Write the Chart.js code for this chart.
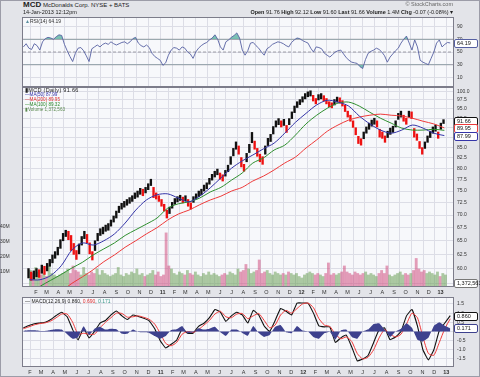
<!DOCTYPE html>
<html>
<head>
<meta charset="utf-8">
<script src="https://cdn.jsdelivr.net/npm/chart.js@4.4.1/dist/chart.umd.min.js"></script>
<style>
  html, body { margin: 0; padding: 0; }
  body { width: 480px; height: 377px; background: #e3e4e9; position: relative; overflow: hidden;
         font-family: "Liberation Sans", Arial, sans-serif; }
  #frame { position: absolute; left: 0; top: 0; width: 478px; height: 375px; border: 1px solid #9c9ca8; }
  canvas { position: absolute; left: 0; }
  .t { position: absolute; white-space: nowrap; color: #222; line-height: 1; }
</style>
</head>
<body>
<div id="frame"></div>
<canvas id="rsiChart" width="480" height="70" style="top:17px"></canvas>
<canvas id="priceChart" width="480" height="210" style="top:87px"></canvas>
<canvas id="macdChart" width="480" height="80" style="top:297px"></canvas>

<div class="t" style="left:23px;top:1px;font-size:6px"><b style="font-size:8px">MCD</b> McDonalds Corp. NYSE + BATS</div>
<div class="t" style="left:23px;top:10px;font-size:5.5px">14-Jan-2013 12:12pm</div>
<div class="t" style="right:27px;top:2px;font-size:5.5px;color:#666">&copy; StockCharts.com</div>
<div class="t" style="right:27px;top:10px;font-size:5.5px"><b>Open</b> 91.76 <b>High</b> 92.12 <b>Low</b> 91.60 <b>Last</b> 91.66 <b>Volume</b> 1.4M <b>Chg</b> -0.07 (-0.08%) &#9662;</div>

<div class="t" style="left:25px;top:19px;font-size:5px;color:#333"><span style="color:#5b8fa0">&#9650;</span>RSI(14) 64.19</div>

<div class="t" style="left:25px;top:88px;font-size:5.5px;letter-spacing:0.3px">&#9646;MCD (Daily) 91.66</div>
<div class="t" style="left:25px;top:93px;font-size:4.6px;color:#3333aa">&#8212;MA(50) 87.99</div>
<div class="t" style="left:25px;top:98px;font-size:4.6px;color:#e03030">&#8212;MA(200) 89.95</div>
<div class="t" style="left:25px;top:103px;font-size:4.6px;color:#2e8a2e">&#8212;MA(100) 89.32</div>
<div class="t" style="left:25px;top:108px;font-size:4.6px;color:#5c8a50">&#9646;Volume 1,372,563</div>

<div class="t" style="left:25px;top:299px;font-size:5px">&#8212; MACD(12,26,9) 0.860, <span style="color:#e03030">0.690</span>, <span style="color:#3a9a8a">0.171</span></div>

<script>
// weekly samples, first week ending 15-Jan-2010
const firstWeek = [2010, 0, 15];

const priceLow = [
  58.4, 58.0, 58.2, 58.6, 58.5, 59.2, 59.0, 59.6, 60.4, 61.0,
  61.8, 62.4, 63.6, 65.0, 65.8, 65.2, 63.2, 62.5, 61.6, 62.6,
  64.2, 65.4, 64.6, 62.6, 61.5, 63.2, 65.0, 66.0, 66.3, 66.8,
  67.0, 67.8, 68.6, 69.4, 70.5, 71.2, 71.6, 72.0, 72.4, 72.8,
  73.4, 73.7, 74.3, 74.0, 74.6, 75.3, 76.2, 73.6, 73.3, 72.8,
  71.8, 70.8, 69.4, 70.3, 71.4, 72.2, 72.7, 73.0, 72.5, 72.9,
  71.8, 71.2, 72.6, 73.3, 73.8, 74.2, 75.0, 75.5, 76.5, 77.4,
  78.1, 78.6, 77.6, 77.2, 78.3, 79.3, 81.0, 83.0, 84.6, 83.4,
  80.4, 79.4, 81.6, 83.8, 86.2, 84.6, 82.9, 81.6, 81.0, 83.4,
  85.5, 86.5, 88.4, 90.2, 90.8, 90.2, 90.6, 88.8, 90.8, 92.4,
  94.0, 95.4, 96.2, 96.9, 97.8, 98.4, 98.6, 97.2, 96.4, 97.5,
  97.8, 97.2, 96.4, 95.6, 95.3, 96.1, 96.9, 96.6, 95.8, 94.3,
  92.8, 91.7, 90.1, 88.2, 86.0, 85.6, 87.2, 88.6, 89.6, 90.4,
  90.9, 90.2, 87.6, 87.3, 86.3, 87.5, 88.3, 88.8, 90.2, 92.2,
  92.8, 91.7, 90.9, 92.8, 92.4, 87.6, 86.8, 84.8, 83.4, 84.8,
  86.3, 87.5, 88.6, 89.1, 87.3, 89.6, 91.1
];
const priceHigh = [
  60.0, 59.4, 59.6, 60.0, 59.8, 60.6, 60.4, 60.9, 61.6, 62.4,
  63.0, 63.8, 65.2, 66.4, 67.0, 66.8, 66.0, 64.5, 63.2, 64.4,
  65.8, 66.8, 66.2, 64.6, 63.0, 65.0, 66.4, 67.3, 67.6, 68.0,
  68.3, 69.0, 69.8, 70.8, 71.8, 72.4, 72.8, 73.2, 73.6, 74.0,
  74.6, 75.0, 75.6, 75.4, 75.8, 76.6, 77.6, 75.8, 74.6, 74.0,
  73.2, 72.2, 71.0, 71.6, 72.6, 73.4, 73.8, 74.1, 73.7, 74.0,
  73.2, 72.5, 73.8, 74.4, 75.0, 75.4, 76.3, 76.8, 77.8, 78.7,
  79.4, 79.9, 79.0, 78.6, 79.6, 80.8, 82.8, 84.8, 86.4, 85.4,
  82.6, 81.0, 83.6, 85.8, 88.8, 86.6, 84.8, 83.4, 82.8, 85.4,
  87.3, 88.3, 90.3, 91.8, 92.4, 91.8, 92.2, 90.6, 92.4, 94.2,
  95.8, 97.0, 97.6, 98.4, 99.3, 99.8, 100.1, 98.8, 97.9, 99.0,
  99.3, 98.7, 97.9, 97.0, 96.7, 97.6, 98.3, 98.1, 97.3, 96.0,
  94.4, 93.3, 91.8, 90.0, 87.8, 87.2, 88.9, 90.2, 91.2, 92.0,
  92.5, 91.8, 89.6, 88.9, 87.9, 89.1, 89.9, 90.4, 91.8, 93.8,
  94.4, 93.3, 92.5, 94.4, 94.2, 89.8, 88.4, 86.5, 85.0, 86.4,
  87.9, 89.1, 90.2, 90.7, 88.9, 91.2, 92.12
];
// volume, millions of shares
const volumeM = [
  11, 9, 13, 10, 8, 9, 7, 14, 9, 8,
  7, 8, 9, 10, 12, 9, 14, 11, 10, 8,
  13, 9, 8, 10, 9, 12, 8, 11, 9, 8,
  7, 8, 9, 13, 8, 7, 9, 8, 10, 9,
  12, 8, 9, 7, 8, 9, 11, 8, 10, 7,
  8, 36, 14, 12, 9, 8, 10, 9, 8, 11,
  9, 8, 10, 8, 7, 9, 8, 10, 8, 9,
  8, 7, 8, 9, 8, 10, 9, 8, 12, 10,
  11, 15, 12, 9, 10, 11, 18, 9, 10, 11,
  9, 8, 10, 9, 8, 9, 8, 10, 9, 8,
  9, 7, 6, 8, 9, 10, 9, 8, 9, 8,
  7, 9, 16, 8, 9, 8, 9, 10, 14, 10,
  9, 8, 10, 9, 8, 9, 10, 8, 9, 8,
  7, 9, 11, 9, 14, 8, 7, 8, 9, 10,
  8, 9, 8, 9, 11, 19, 12, 10, 11, 9,
  10, 9, 8, 10, 7, 9, 8
];
const rsi14 = [
  58, 63, 56, 54, 63, 60, 53, 66, 71, 73,
  72, 70, 74, 77, 76, 62, 52, 43, 35, 48,
  56, 57, 52, 44, 35, 55, 58, 61, 58, 62,
  64, 62, 66, 63, 61, 63, 65, 66, 63, 66,
  71, 73, 64, 60, 58, 61, 57, 48, 43, 40,
  37, 29, 33, 45, 53, 57, 56, 53, 58, 56,
  50, 47, 40, 50, 56, 60, 63, 65, 69, 72,
  77, 70, 58, 53, 66, 69, 73, 76, 80, 72,
  53, 45, 52, 64, 65, 60, 56, 50, 45, 55,
  58, 62, 64, 66, 65, 63, 60, 58, 65, 69,
  72, 71, 68, 66, 64, 56, 50, 58, 57, 55,
  48, 45, 42, 46, 50, 52, 53, 47, 41, 37,
  34, 33, 32, 27, 24, 38, 48, 51, 53, 56,
  54, 50, 44, 34, 42, 47, 52, 56, 64, 70,
  75, 64, 53, 69, 58, 37, 34, 32, 30, 40,
  50, 64, 69, 58, 62, 65, 64.19
];
// moving averages, one reading every 4 weeks
const ma50 = [
  58.1, 58.1, 58.8, 60.5, 63.3, 64.6, 64.2, 65.0, 66.3, 68.4,
  71.0, 73.1, 74.2, 74.4, 73.5, 72.7, 73.9, 75.7, 77.9, 80.1,
  81.8, 83.2, 84.7, 86.1, 88.6, 91.4, 93.8, 96.1, 97.4, 96.9,
  95.8, 93.1, 91.0, 89.4, 88.6, 89.4, 90.7, 89.9, 88.6, 87.99
];
const ma100 = [
  55.8, 57.0, 58.0, 59.0, 60.1, 61.1, 62.4, 63.5, 64.6, 66.0,
  67.1, 68.2, 69.4, 71.4, 72.3, 72.7, 73.5, 74.8, 75.8, 77.4,
  79.0, 81.3, 82.5, 84.4, 85.6, 88.1, 91.0, 93.3, 95.2, 96.6,
  96.9, 95.8, 94.1, 92.5, 91.2, 89.9, 89.4, 89.4, 89.6, 89.32
];
const ma200 = [
  52.8, 53.9, 55.0, 56.2, 57.5, 58.6, 59.8, 61.2, 62.4, 63.8,
  65.0, 66.3, 67.5, 69.0, 70.2, 71.0, 72.1, 73.1, 73.9, 75.0,
  75.8, 77.2, 78.3, 79.7, 81.3, 82.7, 84.9, 86.9, 89.1, 90.7,
  92.0, 92.8, 93.3, 93.6, 93.3, 93.1, 92.5, 91.7, 91.0, 89.95
];
// MACD(12,26,9), one reading every 2 weeks
const macdLine = [
  0.19, 0.32, 0.42, 0.46, 0.5, 0.65, 0.87, 1.05, 0.8, 0.1,
  -0.46, 0.18, -0.35, 0.0, 0.46, 0.6, 0.9, 1.12, 0.85, 0.65,
  0.9, 0.82, 0.72, 0.58, 0.15, -0.5, -0.9, -0.7, -0.48, 0.15,
  -0.1, -0.1, 0.28, 0.45, 0.75, 1.2, 1.05, 0.55, 0.85, 1.05,
  0.9, 0.46, 1.15, 0.9, 0.3, 0.0, 0.6, 1.25, 1.1, 0.9,
  1.55, 1.55, 1.55, 1.0, 0.3, 0.25, 0.25, -0.6, -0.35, -0.2,
  -0.85, -1.6, -1.5, -1.3, -0.6, 0.1, 0.2, -0.45, -0.3, 0.0,
  0.85, 1.2, 0.3, -1.0, -1.55, -1.0, 0.05, 0.46, 0.86
];
const macdSignal = [
  0.15, 0.25, 0.36, 0.43, 0.47, 0.57, 0.75, 0.95, 0.95, 0.5,
  -0.15, -0.1, -0.15, -0.15, 0.2, 0.5, 0.75, 1.0, 0.98, 0.78,
  0.8, 0.85, 0.77, 0.66, 0.4, -0.1, -0.65, -0.78, -0.6, -0.15,
  0.0, -0.05, 0.1, 0.35, 0.6, 0.95, 1.1, 0.8, 0.75, 0.95,
  0.98, 0.7, 0.85, 0.98, 0.6, 0.2, 0.35, 0.9, 1.15, 1.0,
  1.25, 1.5, 1.55, 1.3, 0.7, 0.35, 0.27, -0.15, -0.4, -0.3,
  -0.55, -1.2, -1.5, -1.4, -1.0, -0.35, 0.1, -0.15, -0.3, -0.15,
  0.4, 1.0, 0.75, -0.3, -1.2, -1.3, -0.6, 0.15, 0.69
];
const macdHist = [
  0.04, 0.07, 0.06, 0.03, 0.03, 0.08, 0.12, 0.1, -0.15, -0.4,
  -0.31, 0.28, -0.2, 0.15, 0.26, 0.1, 0.15, 0.12, -0.13, -0.13,
  0.1, -0.03, -0.05, -0.08, -0.25, -0.4, -0.25, 0.08, 0.12, 0.3,
  -0.1, -0.05, 0.18, 0.1, 0.15, 0.25, -0.05, -0.25, 0.1, 0.1,
  -0.08, -0.24, 0.3, -0.08, -0.3, -0.2, 0.25, 0.35, -0.05, -0.1,
  0.3, 0.05, 0.0, -0.3, -0.4, -0.1, -0.02, -0.45, 0.05, 0.1,
  -0.3, -0.4, 0.0, 0.1, 0.4, 0.45, 0.1, -0.3, 0.0, 0.15,
  0.45, 0.2, -0.45, -0.55, -0.35, 0.3, 0.5, 0.31, 0.17
];

const priceTicks = [57.5, 60, 62.5, 65, 67.5, 70, 72.5, 75, 77.5, 80, 82.5, 85, 87.5, 90, 92.5, 95, 97.5, 100];
const volTicks = [10, 20, 30, 40];
const rsiTicks = [10, 30, 50, 70, 90];
const rsiLevels = [70, 50, 30];
const macdTicks = [-1.5, -1, -0.5, 0, 0.5, 1, 1.5];
const monthLetters = ['J', 'F', 'M', 'A', 'M', 'J', 'J', 'A', 'S', 'O', 'N', 'D'];

// ---- x positions (days since 1-Jan-2010) ----
const DAY = 86400000;
const origin = Date.UTC(2010, 0, 1);
const dayOf = (y, m, d) => (Date.UTC(y, m, d) - origin) / DAY;
const week0 = dayOf(firstWeek[0], firstWeek[1], firstWeek[2]);
const weekDays = priceLow.map((_, i) => week0 + 7 * i);
const maDays = ma50.map((_, i) => weekDays[i * 4]);
const macdDays = macdLine.map((_, i) => weekDays[i * 2]);
const xMin = 13, xMax = 1113;

const monthTicks = [];
for (let y = 2010; y <= 2013; y++) {
  for (let m = 0; m < 12; m++) {
    const d = dayOf(y, m, 1);
    if (d > xMin && d < xMax) monthTicks.push(d);
  }
}
const dateOf = v => new Date(origin + v * DAY);
const isJan = v => dateOf(v).getUTCMonth() === 0;

const font = '"Liberation Sans", Arial, sans-serif';
const gridColor = '#dcdde6';
const plotBg = '#f7f8fb';

const pts = (xs, ys) => ys.map((v, i) => ({ x: xs[i], y: v }));
const upWeek = i => i === 0 || (priceLow[i] + priceHigh[i]) > (priceLow[i - 1] + priceHigh[i - 1]);

function xScale(labels) {
  return {
    type: 'linear', min: xMin, max: xMax,
    afterBuildTicks: s => { s.ticks = monthTicks.map(v => ({ value: v })); },
    grid: { color: gridColor, drawTicks: false },
    border: { display: false },
    ticks: {
      display: labels, autoSkip: false, maxRotation: 0, padding: 2, color: '#333',
      font: c => ({ family: font, size: 5.5, weight: c.tick && isJan(c.tick.value) ? 'bold' : 'normal' }),
      callback: v => {
        const d = dateOf(v);
        return d.getUTCMonth() === 0 ? String(d.getUTCFullYear()).slice(2) : monthLetters[d.getUTCMonth()];
      }
    },
    afterFit: s => { s.height = labels ? 10 : 0; s.paddingLeft = 0; s.paddingRight = 0; }
  };
}

function yRight(ticks, fmt, extra) {
  return Object.assign({
    position: 'right',
    afterBuildTicks: s => { s.ticks = ticks.map(v => ({ value: v })); },
    grid: { color: gridColor, drawTicks: false },
    border: { display: false },
    ticks: { color: '#333', font: { family: font, size: 5 }, padding: 4, callback: fmt },
    afterFit: s => { s.width = 27; s.paddingTop = 0; s.paddingBottom = 0; }
  }, extra);
}

// plot background, panel border and last-value boxes
function panel(boxes) {
  return {
    id: 'panel',
    beforeDraw(chart) {
      const { ctx, chartArea: a } = chart;
      ctx.save();
      ctx.fillStyle = plotBg;
      ctx.fillRect(a.left, a.top, a.width, a.height);
      ctx.restore();
    },
    afterDraw(chart) {
      const { ctx, chartArea: a } = chart;
      ctx.save();
      ctx.strokeStyle = '#7c7c8a';
      ctx.lineWidth = 1;
      ctx.strokeRect(a.left - 0.5, a.top + 0.5, a.width + 1, a.height - 1);
      boxes.forEach(b => {
        let y = chart.scales[b.axis].getPixelForValue(b.value);
        y = Math.min(Math.max(y, a.top + 4), a.bottom - 4);
        ctx.fillStyle = '#fff';
        ctx.strokeStyle = b.color;
        ctx.beginPath();
        ctx.roundRect(a.right + 1.5, Math.round(y) - 3.5, 23, 8, 1.5);
        ctx.fill();
        ctx.stroke();
        ctx.fillStyle = '#111';
        ctx.font = '5.5px ' + font;
        ctx.textBaseline = 'middle';
        ctx.fillText(b.text, a.right + 4, Math.round(y) + 0.5);
      });
      ctx.restore();
    }
  };
}

const common = {
  responsive: false, animation: false, devicePixelRatio: 1,
  plugins: { legend: { display: false }, tooltip: { enabled: false } },
  elements: { point: { radius: 0 } }
};

// RSI panel
new Chart(document.getElementById('rsiChart'), {
  type: 'line',
  data: {
    datasets: [
      { data: pts(weekDays, rsi14), borderColor: '#5660a2', borderWidth: 0.9, tension: 0,
        fill: { target: { value: 70 }, above: 'rgba(70,170,150,0.7)', below: 'rgba(0,0,0,0)' } },
      { data: pts(weekDays, rsi14), borderWidth: 0,
        fill: { target: { value: 30 }, above: 'rgba(0,0,0,0)', below: 'rgba(70,170,150,0.7)' } },
      ...rsiLevels.map(v => ({
        data: [{ x: xMin, y: v }, { x: xMax, y: v }],
        borderColor: '#8a8a94', borderWidth: 0.8, borderDash: v === 50 ? [3, 2] : []
      }))
    ]
  },
  options: Object.assign({}, common, {
    layout: { padding: { left: 23 } },
    scales: {
      x: xScale(false),
      y: yRight(rsiTicks, v => v, { min: -5, max: 105 })
    }
  }),
  plugins: [panel([{ axis: 'y', value: 64.19, text: '64.19', color: '#5660a2' }])]
});

// price + volume panel
new Chart(document.getElementById('priceChart'), {
  data: {
    datasets: [
      { type: 'line', data: pts(maDays, ma50), borderColor: '#3535a8', borderWidth: 1, tension: 0.3, order: 1 },
      { type: 'line', data: pts(maDays, ma200), borderColor: '#ee3a3a', borderWidth: 1, tension: 0.3, order: 1 },
      { type: 'line', data: pts(maDays, ma100), borderColor: '#2f8f2f', borderWidth: 1, tension: 0.3, order: 1 },
      { type: 'bar', data: weekDays.map((d, i) => ({ x: d, y: [priceLow[i], priceHigh[i]] })),
        backgroundColor: c => upWeek(c.dataIndex) ? '#111' : '#ee1111',
        barThickness: 1.7, order: 2 },
      { type: 'bar', yAxisID: 'vol', data: pts(weekDays, volumeM),
        backgroundColor: c => upWeek(c.dataIndex) ? 'rgba(110,160,90,0.55)' : 'rgba(210,80,130,0.55)',
        barThickness: 2.2, order: 3 }
    ]
  },
  options: Object.assign({}, common, {
    scales: {
      x: xScale(true),
      y: yRight(priceTicks, v => v.toFixed(1), { type: 'logarithmic', min: 56.9, max: 101.2 }),
      vol: {
        position: 'left', min: 0, max: 133,
        afterBuildTicks: s => { s.ticks = volTicks.map(v => ({ value: v })); },
        grid: { display: false, drawTicks: false },
        border: { display: false },
        ticks: { color: '#333', font: { family: font, size: 5 }, padding: 3, crossAlign: 'far',
                 callback: v => v + 'M' },
        afterFit: s => { s.width = 23; s.paddingTop = 0; s.paddingBottom = 0; }
      }
    }
  }),
  plugins: [panel([
    { axis: 'y', value: 91.66, text: '91.66', color: '#111' },
    { axis: 'y', value: 89.95, text: '89.95', color: '#ee3a3a' },
    { axis: 'y', value: 87.99, text: '87.99', color: '#3535a8' },
    { axis: 'vol', value: 1.37, text: '1,372,563', color: '#777' }
  ])]
});

// MACD panel
new Chart(document.getElementById('macdChart'), {
  type: 'line',
  data: {
    datasets: [
      { data: pts(macdDays, macdHist), borderWidth: 0, fill: 'origin', backgroundColor: '#3d418e', tension: 0.1 },
      { data: pts(macdDays, macdSignal), borderColor: '#f03a3a', borderWidth: 1, tension: 0.2 },
      { data: pts(macdDays, macdLine), borderColor: '#111', borderWidth: 1.1, tension: 0.1 }
    ]
  },
  options: Object.assign({}, common, {
    layout: { padding: { left: 23 } },
    scales: {
      x: xScale(true),
      y: yRight(macdTicks, v => v.toFixed(1), { min: -1.94, max: 1.88 })
    }
  }),
  plugins: [panel([
    { axis: 'y', value: 0.86, text: '0.860', color: '#111' },
    { axis: 'y', value: 0.171, text: '0.171', color: '#3d418e' }
  ])]
});
</script>
</body>
</html>
